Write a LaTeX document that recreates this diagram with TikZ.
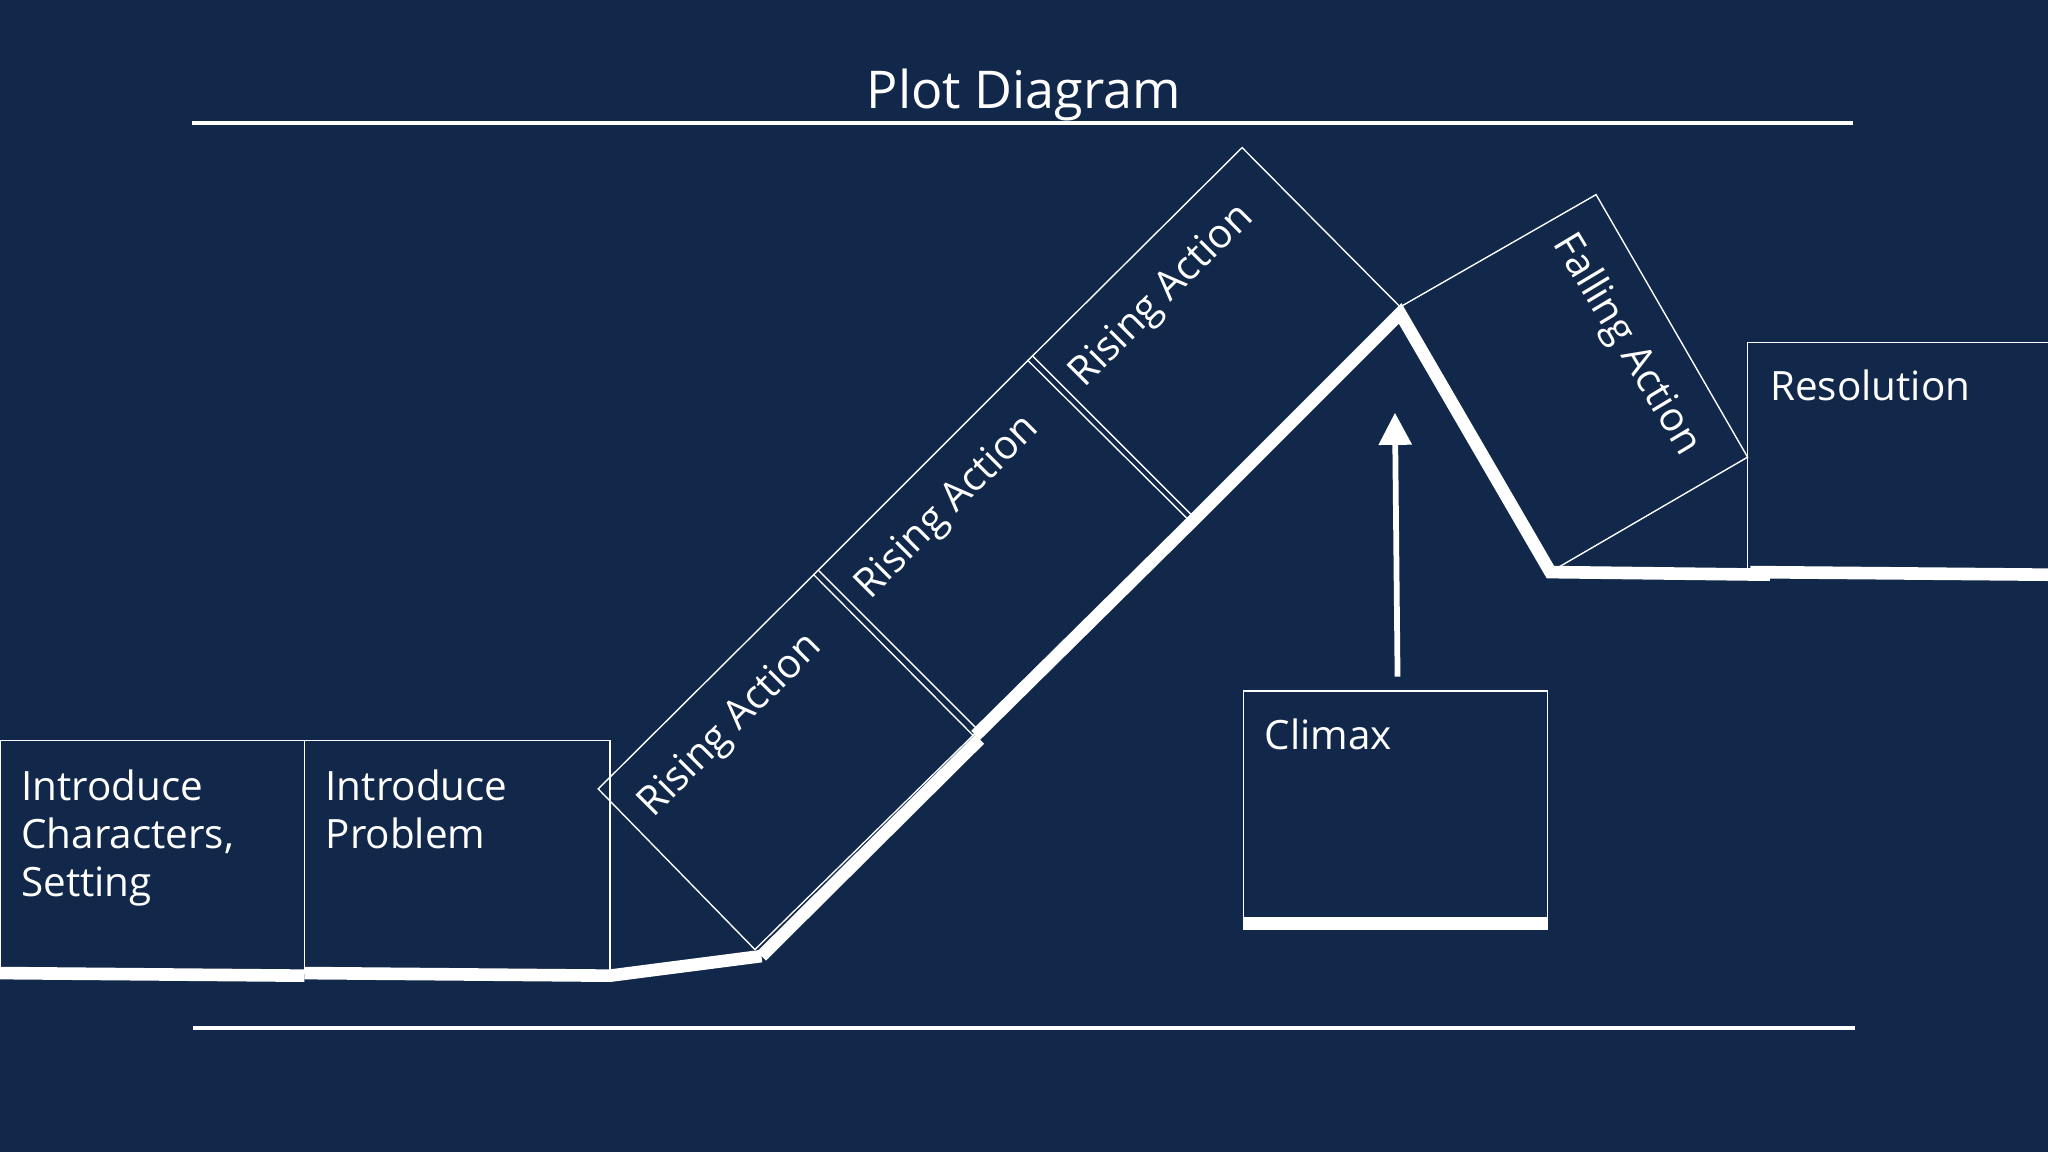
\documentclass[tikz,border=0pt]{standalone}
\usepackage{fontspec}
\setmainfont{Open Sans}
\usetikzlibrary{arrows.meta}
\definecolor{bg}{HTML}{12284A}
\begin{document}
\begin{tikzpicture}[x=0.02cm,y=-0.02cm,
  box/.style={draw=white,line width=0.6pt},
  thick line/.style={white,line width=5.5pt},
  rule/.style={white,line width=1.6pt},
  lbl/.style={text=white,font=\fontsize{17.6pt}{21pt}\selectfont,align=left,anchor=north west,inner sep=0pt},
  rlbl/.style={text=white,font=\fontsize{17.6pt}{21pt}\selectfont,inner sep=0pt}]
\fill[bg] (0,0) rectangle (1568,882);
\useasboundingbox (0,0) rectangle (1568,882);
% title and rules
\node[text=white,font=\fontsize{22.7pt}{26pt}\selectfont] (title) at (784,73) {Plot Diagram};
\coordinate (t1) at (147,94); \coordinate (t2) at (1419,94);
\draw[rule] (t1) -- (t2);
\coordinate (b1) at (148,787); \coordinate (b2) at (1420,787);
\draw[rule] (b1) -- (b2);
% left boxes
\draw[box] (0,567) rectangle (233,745);
\draw[box] (233,567) rectangle (467,745);
\node[lbl] (intro1) at (16,589) {Introduce\\Characters,\\Setting};
\node[lbl] (intro2) at (249,589) {Introduce\\Problem};
% rotated boxes
\draw[box] (578,727) -- (458,604) -- (623,440) -- (745,563) -- cycle;
\draw[box] (623,440) -- (787,276) -- (910,398) -- (745,563);
\draw[box] (787,276) -- (951,113) -- (1072,235) -- (910,398);
\draw[box] (627,437) -- (750,560);
\draw[box] (791,273) -- (913,395);
\node[rlbl,rotate=45] (r1) at (560,556) {Rising Action};
\node[rlbl,rotate=45] (r2) at (726,389) {Rising Action};
\node[rlbl,rotate=45] (r3) at (890,227) {Rising Action};
\draw[box] (1072,235) -- (1222,149) -- (1338,350) -- (1192,435);
\node[rlbl,rotate=-59] (fa) at (1245,264) {Falling Action};
% resolution and climax
\draw[box] (1338,262) rectangle (1580,437);
\node[lbl] (res) at (1355,283) {Resolution};
\draw[box] (952,529) rectangle (1185,705);
\node[lbl] (cl) at (968,550) {Climax};
% thick plot line
\coordinate (p0) at (0,745); \coordinate (p1) at (233,747);
\coordinate (p2) at (233,745); \coordinate (p3) at (467,747);
\coordinate (p4) at (583,732); \coordinate (p5) at (750,566);
\coordinate (p6) at (747,563); \coordinate (p7) at (912,400);
\coordinate (p8) at (1072,240); \coordinate (p9) at (1187,438);
\coordinate (p10) at (1355,440); \coordinate (p11) at (1340,438);
\coordinate (p12) at (1568,440);
\draw[thick line] (p0) -- (p1); \draw[thick line] (p2) -- (p3) -- (p4);
\draw[thick line] (p4) -- (p5); \draw[thick line] (p6) -- (p7) -- (p8) -- (p9) -- (p10);
\draw[thick line] (p11) -- (p12);
\coordinate (c1) at (952,707); \coordinate (c2) at (1185,707);
\draw[thick line] (c1) -- (c2);
% arrow
\coordinate (a1) at (1070,518); \coordinate (a2) at (1068,316);
\draw[white,line width=2.5pt,-{Triangle[length=14pt,width=14pt]}] (a1) -- (a2);
\end{tikzpicture}
\end{document}
